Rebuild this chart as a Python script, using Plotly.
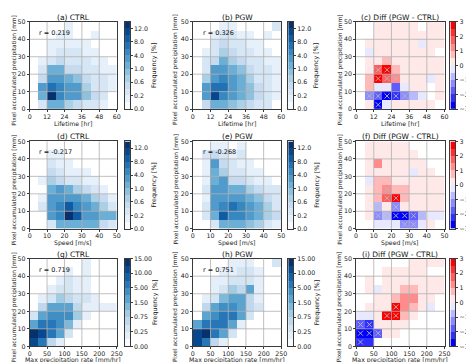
import numpy as np
import plotly.graph_objects as go

# ---------------- data ----------------
lifetime_edges = [0, 6, 12, 18, 24, 30, 36, 42, 48, 54, 60]
speed_edges = [0, 5, 10, 15, 20, 25, 30, 35, 40, 45, 50]
maxrate_edges = [0, 25, 50, 75, 100, 125, 150, 175, 200, 225, 250]
precip_edges = [0, 5, 10, 15, 20, 25, 30, 35, 40, 45, 50]

lifetime_ticks = [0, 12, 24, 36, 48, 60]
speed_ticks = [0, 10, 20, 30, 40, 50]
maxrate_ticks = [0, 50, 100, 150, 200, 250]
precip_ticks = [0, 10, 20, 30, 40, 50]

# rows: precipitation bins (0-5 ... 45-50), columns: x bins
ctrl_lifetime = [
    [0, 0.3, 1.0, 1.0, 0.6, 0.5, 0.3, 0.2, 0.1, 0],
    [0, 1.5, 13.0, 5.0, 2.5, 2.0, 0.8, 0.4, 0.2, 0],
    [0, 2.0, 7.0, 4.5, 3.0, 2.0, 0.7, 0.3, 0.2, 0.1],
    [0, 0.5, 3.5, 3.0, 1.5, 0.8, 0.4, 0.3, 0.2, 0.1],
    [0, 0.2, 1.0, 1.0, 0.5, 0.4, 0.3, 0.2, 0.1, 0.1],
    [0, 0.1, 0.3, 0.5, 0.3, 0.2, 0.2, 0.1, 0.1, 0],
    [0, 0, 0.1, 0.2, 0.2, 0.3, 0.1, 0.1, 0, 0],
    [0, 0, 0.1, 0.1, 0.1, 0.1, 0.1, 0, 0, 0],
    [0, 0, 0, 0.1, 0.1, 0, 0, 0.1, 0, 0],
    [0, 0, 0, 0, 0.1, 0, 0, 0, 0, 0],
]
pgw_lifetime = [
    [0, 0.4, 1.0, 1.0, 0.8, 0.6, 0.4, 0.3, 0.2, 0],
    [0, 2.0, 11.0, 5.0, 2.0, 1.5, 0.8, 0.4, 0.2, 0.1],
    [0, 2.5, 7.0, 6.0, 2.5, 1.5, 0.8, 0.4, 0.2, 0.1],
    [0, 0.6, 3.5, 5.0, 2.0, 1.0, 0.6, 0.3, 0.2, 0.1],
    [0, 0.3, 2.5, 2.5, 1.0, 0.8, 0.4, 0.3, 0.2, 0.1],
    [0, 0.2, 0.5, 1.0, 0.6, 0.4, 0.3, 0.2, 0.1, 0.1],
    [0, 0.1, 0.3, 0.6, 0.4, 0.3, 0.2, 0.1, 0.1, 0],
    [0, 0, 0.2, 0.4, 0.3, 0.2, 0.1, 0.1, 0, 0],
    [0, 0, 0.1, 0.3, 0.2, 0.1, 0.1, 0, 0.1, 0],
    [0, 0, 0, 0.1, 0.1, 0, 0, 0, 0, 0.3],
]
diff_lifetime = [
    [0, 0.2, -3.0, -0.3, 0.2, 0.2, 0.1, 0.1, 0.1, 0],
    [0, -1.2, -2.0, -3.0, -2.3, -1.5, -0.8, -0.3, 0, 0.1],
    [0, 0.5, -0.3, -0.5, -1.8, -0.5, 0.1, 0.1, 0, 0.1],
    [0, 0.7, 2.5, 1.8, 1.0, 0.4, 0.2, 0.2, -0.2, 0.1],
    [0, 0.2, 1.6, 2.6, 0.6, 0.4, 0.2, 0.2, 0.1, 0.1],
    [0, 0.2, 0.3, 0.8, 0.4, 0.2, 0.2, 0.1, 0.1, 0.1],
    [0, -0.3, 0.2, 0.3, 0.3, 0.2, 0.1, 0.1, 0.1, 0],
    [0, 0.1, 0.2, 0.3, 0.2, 0.3, 0.2, -0.3, 0.1, 0.1],
    [0, 0, 0.2, 0.4, 0.2, 0.2, 0.1, 0.1, 0.1, 0.2],
    [0, 0, 0.1, 0.1, 0.1, 0.1, 0.1, 0, 0.1, 0.2],
]
sig_lifetime = [(0, 2), (1, 1), (1, 2), (1, 3), (1, 4), (1, 5),
                (3, 2), (3, 3), (3, 4), (4, 2), (4, 3)]

ctrl_speed = [
    [0, 0, 0.2, 1.0, 1.5, 1.5, 1.2, 1.0, 0.4, 0.2],
    [0, 0, 2.0, 5.0, 13.0, 8.0, 2.5, 2.0, 1.2, 1.5],
    [0, 0.2, 2.5, 4.5, 9.0, 4.5, 2.5, 1.5, 0.6, 0.2],
    [0, 0.1, 2.0, 2.5, 3.0, 2.0, 1.5, 0.6, 0.4, 0.1],
    [0, 0, 1.5, 2.0, 1.2, 0.6, 0.4, 0.2, 0.1, 0],
    [0, 0.1, 0.6, 0.5, 0.3, 0.2, 0.1, 0.1, 0, 0],
    [0, 0, 0.5, 0.3, 0.1, 0.1, 0.1, 0, 0, 0],
    [0, 0, 0.2, 0.1, 0.1, 0, 0, 0, 0, 0],
    [0, 0, 0.1, 0.1, 0, 0, 0, 0, 0, 0],
    [0, 0, 0, 0, 0, 0, 0, 0, 0, 0],
]
pgw_speed = [
    [0, 0, 0.3, 1.2, 1.5, 1.2, 0.8, 0.6, 0.3, 0.1],
    [0, 0.2, 1.0, 8.0, 5.0, 4.5, 2.0, 1.5, 0.6, 0.5],
    [0, 0.2, 2.0, 4.5, 6.5, 4.0, 2.5, 1.0, 0.6, 0.3],
    [0, 0.1, 3.5, 3.0, 3.5, 2.0, 1.5, 0.8, 0.4, 0.2],
    [0, 0.3, 2.0, 2.0, 1.5, 1.5, 0.6, 0.4, 0.3, 0.3],
    [0, 0.1, 1.5, 2.0, 0.5, 0.4, 0.2, 0.1, 0.1, 0],
    [0, 0.1, 1.5, 0.6, 0.3, 0.2, 0.1, 0.1, 0, 0],
    [0, 0.1, 2.0, 0.5, 0.2, 0.1, 0.1, 0, 0, 0],
    [0, 0.2, 0.5, 0.2, 0.1, 0.2, 0, 0, 0, 0],
    [0, 0, 0.1, 0.1, 0, 0.1, 0, 0, 0, 0],
]
diff_speed = [
    [0, 0, -0.3, -0.3, -0.4, -1.3, -1.2, -0.4, 0.3, 0],
    [0, 0.2, -1.3, -0.7, -2.8, -3.0, -1.8, -0.8, -0.4, -0.4],
    [0, 0.2, -1.0, 0.3, -1.2, 0.2, 0.2, 0.1, 0.1, 0.1],
    [0, 0.1, 0.8, 1.8, 2.6, 0.6, 0.4, 0.3, 0.2, 0.1],
    [0, 0.2, 0.7, 1.0, 0.6, 0.6, 0.3, 0.3, 0.2, 0.2],
    [0, -0.2, 0.6, 0.6, 0.3, 0.3, 0.2, 0.2, 0.1, 0.1],
    [0, 0.2, 0.4, 0.4, 0.3, 0.3, -0.2, 0.1, 0.1, 0],
    [0, 0.2, 1.0, 0.4, 0.2, 0.2, 0.1, 0.1, 0, 0],
    [0, 0.2, 0.3, 0.3, 0.3, 0.3, 0.1, 0, 0, 0],
    [0, 0.2, 0.3, 0.2, 0.2, 0.2, 0, 0, 0, 0],
]
sig_speed = [(0, 5), (0, 6), (1, 2), (1, 3), (1, 4), (1, 5), (1, 6), (1, 7),
             (2, 2), (2, 4), (3, 3), (3, 4), (4, 3)]

ctrl_maxrate = [
    [12.0, 6.0, 0.5, 0.1, 0, 0, 0, 0, 0, 0],
    [14.5, 10.0, 6.0, 1.5, 0.3, 0, 0, 0, 0, 0],
    [2.0, 6.0, 5.0, 3.5, 1.2, 0.2, 0, 0, 0, 0],
    [0.4, 2.0, 4.0, 3.0, 2.5, 0.8, 0.1, 0, 0, 0],
    [0, 0.6, 1.5, 2.0, 2.0, 0.6, 0.2, 0.1, 0.1, 0.1],
    [0, 0.1, 0.4, 0.8, 0.6, 0.4, 0.3, 0.1, 0, 0],
    [0, 0, 0.2, 0.3, 0.4, 0.2, 0.1, 0, 0, 0],
    [0, 0, 0, 0.2, 0.3, 0.1, 0.1, 0, 0, 0],
    [0, 0, 0, 0, 0.1, 0, 0.1, 0, 0, 0],
    [0, 0, 0, 0, 0, 0, 0.1, 0, 0, 0],
]
pgw_maxrate = [
    [10.0, 5.0, 0.5, 0.1, 0, 0, 0, 0, 0, 0],
    [11.0, 14.0, 7.0, 2.0, 0.3, 0, 0, 0, 0, 0],
    [1.5, 6.0, 7.0, 5.0, 2.0, 0.2, 0, 0, 0, 0],
    [0, 1.5, 4.0, 6.0, 5.0, 2.0, 0.3, 0, 0, 0],
    [0, 0.6, 1.5, 4.0, 4.0, 2.0, 0.6, 0.3, 0, 0],
    [0, 0.1, 0.4, 1.0, 1.5, 2.0, 0.6, 0.2, 0, 0],
    [0, 0, 0.2, 0.4, 0.8, 0.6, 1.5, 0.2, 0, 0],
    [0, 0, 0.1, 0.2, 0.3, 0.4, 0.4, 0.1, 0, 0],
    [0, 0, 0, 0.1, 0.2, 0.3, 0.3, 0.1, 0, 0],
    [0, 0, 0, 0, 0.1, 0.1, 0.2, 0, 0, 0.3],
]
diff_maxrate = [
    [-2.5, -2.2, 0, 0, 0, 0, 0, 0, 0, 0],
    [-3.0, -2.7, -2.0, 0.2, 0.1, 0, 0, 0, 0, 0],
    [-1.8, -2.2, 0.2, 0.3, 0.4, 0.1, 0, 0, 0, 0],
    [-0.4, -0.3, 0.2, 2.6, 2.8, 0.7, 0.2, 0, 0, 0],
    [0, 0.2, 0.2, 0.4, 2.6, 1.0, 0.6, 0.3, -0.4, 0],
    [0, 0, 0.1, 0.3, 0.5, 1.2, 1.0, 0.4, 0.2, 0],
    [0, 0.1, -0.3, 0.2, 0.3, 0.9, 0.7, 0.3, 0.2, 0.1],
    [0, 0.3, 0, 0.2, 0.3, 0.4, 0.3, 0.2, 0.1, 0.1],
    [0, 0, 0, 0.2, 0.3, 0.3, 0.3, 0.2, 0, 0],
    [0, 0, 0, 0, 0, 0, 0.1, 0.1, 0.3, 0.3],
]
sig_maxrate = [(0, 0), (1, 0), (1, 1), (1, 2), (2, 0), (2, 1), (3, 3), (3, 4), (4, 4)]

r_values = ["0.219", "0.326", "-0.217", "-0.268", "0.719", "0.751"]

freq_levels_12 = [0, 0.1, 0.2, 0.4, 0.6, 0.8, 1.0, 2.0, 4.0, 6.0, 8.0, 10.0, 12.0, 14.0]
freq_levels_15 = [0, 0.1, 0.25, 0.5, 0.75, 1.0, 1.5, 2.5, 5.0, 7.5, 10.0, 12.5, 15.0]
diff_levels = [-3, -2.5, -2, -1.5, -1, -0.5, 0, 0.5, 1, 1.5, 2, 2.5, 3]
diff_ticks = [-3, -2, -1, 0, 1, 2, 3]

# ---------------- styling helpers ----------------
W, H = 474, 362
FONT = "DejaVu Sans"
BLUES = ['#f7fbff', '#deebf7', '#c6dbef', '#9ecae1', '#6baed6',
         '#4292c6', '#2171b5', '#08519c', '#08306b']


def hex2rgb(h):
    h = h.lstrip('#')
    return np.array([int(h[i:i + 2], 16) for i in (0, 2, 4)], float)


def blues(t):
    pos = t * (len(BLUES) - 1)
    i = min(int(np.floor(pos)), len(BLUES) - 2)
    f = pos - i
    c = hex2rgb(BLUES[i]) * (1 - f) + hex2rgb(BLUES[i + 1]) * f
    return 'rgb(%d,%d,%d)' % tuple(np.round(c))


def bwr(t):
    if t < 0.5:
        c = np.array([2 * t, 2 * t, 1.0])
    else:
        c = np.array([1.0, 2 * (1 - t), 2 * (1 - t)])
    return 'rgb(%d,%d,%d)' % tuple(np.round(c * 255))


def discrete(cols):
    n = len(cols)
    cs = []
    for i, c in enumerate(cols):
        cs.append([i / n, c])
        cs.append([(i + 1) / n, c])
    return cs


cols_px = [(20, 108.5), (186, 276), (352, 442)]
rows_px = [(10, 99), (132, 221), (251.5, 341)]
cbar_x_px = [117, 283, 448]
cbar_title_x_px = [147, 312, 469]
ytitle_x_px = [5, 169, 336]
xtitle_shift = [-14.5, -14.5, -13.5]

fig = go.Figure()

panels = [
    (0, 0, ctrl_lifetime, 'f', freq_levels_12, lifetime_edges, lifetime_ticks, 'Lifetime [hr]', '(a) CTRL', r_values[0], None),
    (0, 1, pgw_lifetime, 'f', freq_levels_12, lifetime_edges, lifetime_ticks, 'Lifetime [hr]', '(b) PGW', r_values[1], None),
    (0, 2, diff_lifetime, 'd', diff_levels, lifetime_edges, lifetime_ticks, 'Lifetime [hr]', '(c) Diff (PGW - CTRL)', None, sig_lifetime),
    (1, 0, ctrl_speed, 'f', freq_levels_12, speed_edges, speed_ticks, 'Speed [m/s]', '(d) CTRL', r_values[2], None),
    (1, 1, pgw_speed, 'f', freq_levels_12, speed_edges, speed_ticks, 'Speed [m/s]', '(e) PGW', r_values[3], None),
    (1, 2, diff_speed, 'd', diff_levels, speed_edges, speed_ticks, 'Speed [m/s]', '(f) Diff (PGW - CTRL)', None, sig_speed),
    (2, 0, ctrl_maxrate, 'f', freq_levels_15, maxrate_edges, maxrate_ticks, 'Max precipitation rate [mm/hr]', '(g) CTRL', r_values[4], None),
    (2, 1, pgw_maxrate, 'f', freq_levels_15, maxrate_edges, maxrate_ticks, 'Max precipitation rate [mm/hr]', '(h) PGW', r_values[5], None),
    (2, 2, diff_maxrate, 'd', diff_levels, maxrate_edges, maxrate_ticks, 'Max precipitation rate [mm/hr]', '(i) Diff (PGW - CTRL)', None, sig_maxrate),
]

annotations = []
shapes = []
GRID = '#b0b0b0'
AX = '#3a3a3a'
TXT = '#222'
TICKFONT = dict(size=6.3, family=FONT, color=TXT)

for k, (r, c, data, kind, levels, xedges, xticks, xtitle, title, rv, sig) in enumerate(panels):
    idx = '' if k == 0 else str(k + 1)
    xa, ya = 'x' + idx, 'y' + idx
    cidx = str(k + 11)
    cxa, cya = 'x' + cidx, 'y' + cidx
    x0, x1 = cols_px[c]
    t0, t1 = rows_px[r]
    xdom = [x0 / W, x1 / W]
    ydom = [1 - t1 / H, 1 - t0 / H]
    arr = np.array(data, float)
    nb = len(levels) - 1

    if kind == 'f':
        z = np.where(arr > 0, np.interp(arr, levels, np.arange(len(levels))), np.nan)
        z = np.minimum(z, nb - 1e-3)
        cs = discrete([blues(i / (nb - 1)) for i in range(nb)])
        zmin, zmax = 0, nb
        cb_edges = list(range(nb + 1))
        cb_z = [[i + 0.5] for i in range(nb)]
        tickidx = list(range(0, len(levels), 2))
        fmt = '%.1f' if levels is freq_levels_12 else '%.2f'
        cb_tickvals = tickidx
        cb_ticktext = [fmt % levels[i] for i in tickidx]
        cb_title = 'Frequency [%]'
    else:
        z = np.where(arr != 0, arr, np.nan)
        cs = discrete([bwr(i / (nb - 1)) for i in range(nb)])
        zmin, zmax = levels[0], levels[-1]
        cb_edges = levels
        cb_z = [[(levels[i] + levels[i + 1]) / 2] for i in range(nb)]
        cb_tickvals = diff_ticks
        cb_ticktext = [('\u2212%d' % -v) if v < 0 else '%d' % v for v in diff_ticks]
        cb_title = 'Frequency difference [%]'

    fig.add_trace(go.Heatmap(
        z=z, x=xedges, y=precip_edges, xaxis=xa, yaxis=ya,
        colorscale=cs, zmin=zmin, zmax=zmax, showscale=False,
        hoverinfo='skip',
    ))
    # colour bar drawn as its own small heatmap
    fig.add_trace(go.Heatmap(
        z=cb_z, x=[0, 1], y=cb_edges, xaxis=cxa, yaxis=cya,
        colorscale=cs, zmin=zmin, zmax=zmax, showscale=False, hoverinfo='skip',
    ))
    if sig:
        xs = [(xedges[j] + xedges[j + 1]) / 2 for (i, j) in sig]
        ys = [(precip_edges[i] + precip_edges[i + 1]) / 2 for (i, j) in sig]
        fig.add_trace(go.Scatter(
            x=xs, y=ys, xaxis=xa, yaxis=ya, mode='markers', showlegend=False,
            marker=dict(symbol='x-thin', size=5, line=dict(width=1, color='rgba(185,185,185,0.9)')),
            hoverinfo='skip'))

    axcommon = dict(showgrid=False, zeroline=False, showline=True, mirror=True,
                    linecolor=AX, linewidth=0.8, ticks='outside', ticklen=2,
                    tickwidth=0.7, tickcolor=AX, tickfont=TICKFONT)
    fig.layout['xaxis' + idx] = dict(
        domain=xdom, anchor=ya, range=[xedges[0], xedges[-1]], tickvals=xticks,
        ticklabelstandoff=-1, **axcommon)
    fig.layout['yaxis' + idx] = dict(
        domain=ydom, anchor=xa, range=[precip_edges[0], precip_edges[-1]],
        tickvals=precip_ticks, **axcommon)
    # colour bar axes
    cbx0 = cbar_x_px[c]
    fig.layout['xaxis' + cidx] = dict(
        domain=[cbx0 / W, (cbx0 + 5) / W], anchor=cya, range=[0, 1],
        showticklabels=False, ticks='', showgrid=False, zeroline=False,
        showline=True, mirror=True, linecolor=AX, linewidth=0.6)
    fig.layout['yaxis' + cidx] = dict(
        domain=ydom, anchor=cxa, side='right', range=[cb_edges[0], cb_edges[-1]],
        tickvals=cb_tickvals, ticktext=cb_ticktext, showgrid=False, zeroline=False,
        showline=True, mirror=True, linecolor=AX, linewidth=0.6,
        ticks='outside', ticklen=2, tickwidth=0.6, tickcolor=AX,
        tickfont=dict(size=6.3, family=FONT, color=TXT))
    annotations.append(dict(text=cb_title, xref='paper', yref='paper',
                            x=cbar_title_x_px[c] / W, y=(ydom[0] + ydom[1]) / 2,
                            xanchor='center', yanchor='middle', textangle=-90, showarrow=False,
                            borderpad=0, font=dict(size=6.3, family=FONT, color=TXT)))

    for xv in xticks[1:-1]:
        shapes.append(dict(type='line', xref=xa, yref=ya + ' domain', x0=xv, x1=xv, y0=0, y1=1,
                           line=dict(color=GRID, width=0.8), layer='above'))
    for yv in precip_ticks[1:-1]:
        shapes.append(dict(type='line', xref=xa + ' domain', yref=ya, x0=0, x1=1, y0=yv, y1=yv,
                           line=dict(color=GRID, width=0.8), layer='above'))
    # axis titles
    annotations.append(dict(text=xtitle, xref=xa + ' domain', yref=ya + ' domain', x=0.5, y=0,
                            xanchor='center', yanchor='middle', yshift=xtitle_shift[r], showarrow=False,
                            borderpad=0, font=dict(size=6.2, family=FONT, color=TXT)))
    annotations.append(dict(text='Pixel accumulated precipitation [mm]', xref='paper',
                            yref=ya + ' domain', x=ytitle_x_px[c] / W, y=0.45,
                            xanchor='center', yanchor='middle', textangle=-90, showarrow=False,
                            borderpad=0, font=dict(size=5.9, family=FONT, color=TXT)))
    annotations.append(dict(text=title, xref=xa + ' domain', yref=ya + ' domain', x=0.5, y=1.0,
                            xanchor='center', yanchor='bottom', yshift=-1, showarrow=False,
                            borderpad=0, font=dict(size=7.5, family=FONT, color='#111')))
    if rv is not None:
        annotations.append(dict(text='r = ' + rv, xref=xa + ' domain', yref=ya + ' domain',
                                x=0.09, y=0.875, xanchor='left', yanchor='middle', showarrow=False,
                                font=dict(size=6.5, family=FONT, color='#111')))

fig.update_layout(
    width=W, height=H, margin=dict(l=0, r=0, t=0, b=0),
    paper_bgcolor='white', plot_bgcolor='white',
    font=dict(family=FONT, size=7, color=TXT),
    showlegend=False, annotations=annotations, shapes=shapes,
)

fig.write_html("out.html")
